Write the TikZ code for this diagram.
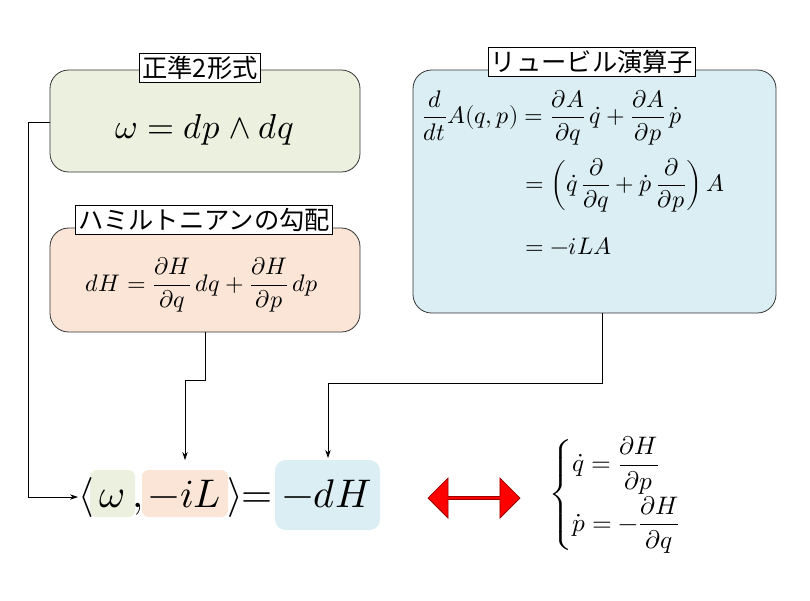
\documentclass[tikz,border=0pt]{standalone}
\usepackage{amsmath}
\usepackage{fontspec}
\usepackage{unicode-math}
\setmathfont{Latin Modern Math}
\newfontfamily\cjk{Noto Sans CJK JP}
\usetikzlibrary{arrows.meta,shapes.arrows}
\definecolor{gbox}{HTML}{EBF1DE}
\definecolor{obox}{HTML}{FBE5D6}
\definecolor{bbox}{HTML}{DAEEF3}
\begin{document}
\begin{tikzpicture}[x=0.0264cm,y=-0.0264cm,
  panel/.style={draw=black!80,line width=0.6pt,rounded corners=14pt},
  title/.style={draw=black,fill=white,line width=0.6pt,inner sep=2pt,font=\cjk\fontsize{19}{22}\selectfont},
  big/.style={inner sep=0pt,font=\fontsize{30}{34}\selectfont},
  conn/.style={draw=black,line width=0.5pt},
  arr/.style={conn,-{Stealth[length=6pt,width=4pt]}}]
\useasboundingbox (0,0) rectangle (810,600);
% panels
\draw[panel,fill=gbox] (50,70) rectangle (360,172);
\node[title] (t1) at (200,68) {正準2形式};
\node (e1) at (205,130) {\fontsize{26}{30}\selectfont $\omega = dp\wedge dq$};
\draw[panel,fill=obox] (50,228) rectangle (360,332);
\node[title] (t2) at (204,220) {ハミルトニアンの勾配};
\node (e2) at (202,285) {\fontsize{18}{22}\selectfont $dH=\dfrac{\partial H}{\partial q}\,dq+\dfrac{\partial H}{\partial p}\,dp$};
\draw[panel,fill=bbox] (413,70) rectangle (776,313);
\node[title] (t3) at (592,62) {リュービル演算子};
\node[anchor=north west,inner sep=0pt] (e3) at (422,90) {\fontsize{18}{22}\selectfont $\begin{aligned}
\frac{d}{dt}A(q,p)&=\frac{\partial A}{\partial q}\,\dot q+\frac{\partial A}{\partial p}\,\dot p\\[6pt]
&=\left(\dot q\,\frac{\partial}{\partial q}+\dot p\,\frac{\partial}{\partial p}\right)A\\[12pt]
&=-iLA\end{aligned}$};
% main equation
\fill[gbox,rounded corners=5pt] (90,470) rectangle (135,517);
\fill[obox,rounded corners=5pt] (142,470) rectangle (228,517);
\fill[bbox,rounded corners=8pt] (275,460) rectangle (380,530);
\node[big,anchor=base west] (la) at (78,507) {$\langle$};
\node[big,anchor=base] (om) at (112,507) {$\omega$};
\node[big,anchor=base] (cm) at (138,507) {$,$};
\node[big,anchor=base] (il) at (185,507) {$-iL$};
\node[big,anchor=base] (ra) at (235,507) {$\rangle$};
\node[big,anchor=base] (eqs) at (257,507) {$=$};
\node[big,anchor=base] (dh) at (327,507) {$-dH$};
% double arrow
\node[double arrow,draw=red!60!black,fill=red,line width=0.6pt,minimum width=30pt,double arrow head extend=3.5pt,minimum height=69pt,inner sep=0pt] (da) at (474,498) {};
\node (sys) at (628,495) {\fontsize{19}{23}\selectfont $\begin{cases}\dot q=\dfrac{\partial H}{\partial p}\\[10pt]\dot p=-\dfrac{\partial H}{\partial q}\end{cases}$};
% connectors
\draw[arr] (50,122) -- (28,122) -- (28,497) -- (la.west |- 0,497);
\draw[arr] (205,332) -- (205,380) -- (185,380) -- (185,460);
\draw[arr] (602,313) -- (602,383) -- (328,383) -- (328,458);
\end{tikzpicture}
\end{document}
